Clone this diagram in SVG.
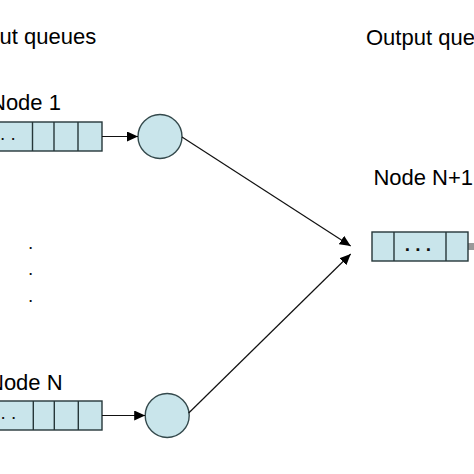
<svg xmlns="http://www.w3.org/2000/svg" width="474" height="474" viewBox="0 0 474 474">
<style>
  .q { fill: #c9e5eb; stroke: #263739; stroke-width: 1.4; }
  .srv { fill: #c9e5eb; stroke: #34494c; stroke-width: 1.4; }
  .lbl { font-family: "Liberation Sans", Arial, sans-serif; font-size: 22px; fill: #000; }
  .dots { font-family: "Liberation Sans", Arial, sans-serif; font-size: 19px; fill: #111; }
  .conn { stroke: #111; stroke-width: 1.2; fill: none; marker-end: url(#ah); }
</style>
<defs>
  <marker id="ah" markerUnits="userSpaceOnUse" markerWidth="12" markerHeight="11" refX="11" refY="5" orient="auto">
    <path d="M0,0 L11,5 L0,10 Z" fill="#000"/>
  </marker>
</defs>
<rect width="474" height="474" fill="#fff"/>

<text class="lbl" x="-31" y="44">Input queues</text>
<text class="lbl" x="366" y="45">Output queues</text>

<g id="node1">
  <text class="lbl" x="-10" y="110">Node 1</text>
  <rect class="q" x="-20" y="122" width="122" height="29"/>
  <line class="q" x1="32.5" y1="122" x2="32.5" y2="151"/>
  <line class="q" x1="54" y1="122" x2="54" y2="151"/>
  <line class="q" x1="78" y1="122" x2="78" y2="151"/>
  <text class="dots" x="-10.6" y="139.5" xml:space="preserve">. . .</text>
</g>
<g id="server1">
  <circle class="srv" cx="160" cy="136.5" r="22"/>
</g>

<g id="vdots">
  <text class="dots" x="28.1" y="248.7">.</text>
  <text class="dots" x="28.1" y="275">.</text>
  <text class="dots" x="28.1" y="302">.</text>
</g>

<g id="nodeN">
  <text class="lbl" x="-12" y="390">Node N</text>
  <rect class="q" x="-20" y="401" width="122" height="29"/>
  <line class="q" x1="33.3" y1="401" x2="33.3" y2="430"/>
  <line class="q" x1="54.3" y1="401" x2="54.3" y2="430"/>
  <line class="q" x1="78.3" y1="401" x2="78.3" y2="430"/>
  <text class="dots" x="-10" y="418.5" xml:space="preserve">. . .</text>
</g>
<g id="serverN">
  <circle class="srv" cx="167.2" cy="415.5" r="22"/>
</g>

<g id="nodeN1">
  <text class="lbl" x="373.4" y="185">Node N+1</text>
  <rect x="467" y="243" width="8" height="7" fill="#9a9a9a"/>
  <rect class="q" x="372" y="232" width="96" height="29"/>
  <line class="q" x1="394" y1="232" x2="394" y2="261"/>
  <line class="q" x1="446" y1="232" x2="446" y2="261"/>
  <text class="dots" x="404.7" y="250.5" font-weight="bold" font-size="18.6" xml:space="preserve">. . .</text>
</g>

<g id="connectors">
  <line class="conn" x1="102" y1="136.5" x2="138" y2="136.5"/>
  <line class="conn" x1="102" y1="415.5" x2="145.2" y2="415.5"/>
  <line class="conn" x1="182" y1="137" x2="350.7" y2="246"/>
  <line class="conn" x1="188.7" y1="413" x2="350.7" y2="254"/>
</g>
</svg>
